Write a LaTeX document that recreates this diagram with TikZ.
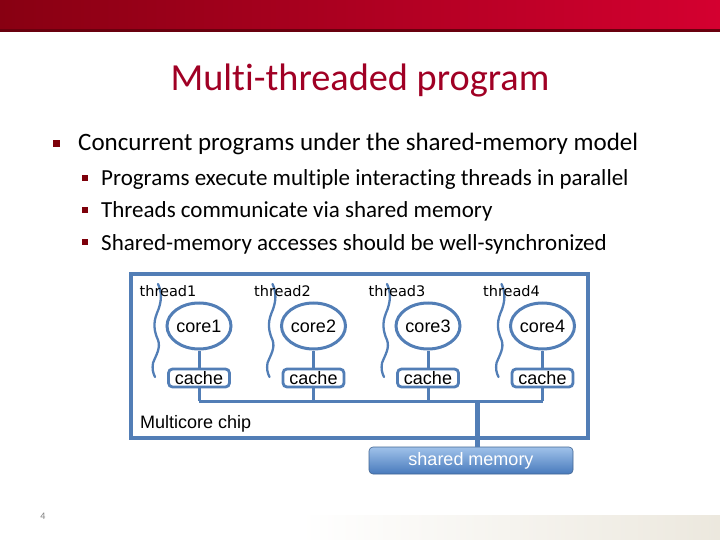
\documentclass[tikz,border=0pt]{standalone}
\usepackage{fontspec}
\setmainfont{Carlito}[Ligatures={NoCommon}]
\newfontfamily\diagfont{Liberation Sans}
\newfontfamily\thrfont{DejaVu Sans}
\usepackage{tikz}
\usetikzlibrary{shapes.geometric,positioning}

\definecolor{chipblue}{RGB}{82,126,182}
\definecolor{bannerdark}{RGB}{136,0,18}
\definecolor{bannerlight}{RGB}{212,0,48}
\definecolor{bannerline}{RGB}{105,0,14}
\definecolor{titlered}{RGB}{160,0,36}
\definecolor{bulletred}{RGB}{125,0,10}
\definecolor{memtop}{RGB}{160,194,234}
\definecolor{membot}{RGB}{72,122,188}
\definecolor{footbeige}{RGB}{236,232,222}

\begin{document}
\begin{tikzpicture}[x=1pt,y=-1pt,
      title/.style={font=\fontsize{38.3}{40}\selectfont, text=titlered,
          anchor=base, inner sep=0pt},
      itemtext/.style={font=\fontsize{25}{28}\selectfont, anchor=base west,
          inner sep=0pt},
      subtext/.style={font=\fontsize{23}{26}\selectfont, anchor=base west,
          inner sep=0pt},
      bulleta/.style={rectangle, fill=bulletred, inner sep=0pt,
          minimum size=7pt},
      bulletb/.style={rectangle, fill=bulletred, inner sep=0pt,
          minimum size=6pt},
      chip/.style={rectangle, draw=chipblue, line width=3.4pt,
          minimum width=457pt, minimum height=164pt, inner sep=0pt},
      core/.style={ellipse, draw=chipblue, fill=white, line width=3pt,
          minimum width=64pt, minimum height=46pt, inner sep=0pt,
          font=\diagfont\fontsize{18}{20}\selectfont},
      cache/.style={rectangle, draw=chipblue, fill=white, line width=2.8pt,
          rounded corners=4pt, minimum width=61pt, minimum height=18pt,
          inner sep=0pt, font=\diagfont\fontsize{18}{20}\selectfont},
      thr/.style={anchor=base, inner sep=0pt,
          font=\thrfont\fontsize{14.5}{16}\selectfont},
      mem/.style={rectangle, draw=chipblue!80!black, line width=0.6pt,
          rounded corners=4pt, top color=memtop, bottom color=membot,
          minimum width=204pt, minimum height=27pt, inner sep=0pt,
          text=white, font=\diagfont\fontsize{18}{20}\selectfont},
      link/.style={draw=chipblue, line width=3pt},
      memlink/.style={draw=chipblue, line width=5pt},
      wave/.style={draw=chipblue, line width=2.3pt, line cap=round}
  ]
  \useasboundingbox (0,0) rectangle (720,540);

  % banner and footer
  \shade[left color=bannerdark, right color=bannerlight] (0,0) rectangle (720,30);
  \fill[bannerline] (0,29.5) rectangle (720,32);
  \shade[left color=white, right color=footbeige] (300,515) rectangle (720,540);
  \node[font=\fontsize{10}{12}\selectfont, text=gray, anchor=base] (pagenum)
      at (43,519) {4};

  % title and bullets
  \node[title] (ttl) at (360,91) {Multi-threaded program};
  \node[bulleta] (b0) at (56.5,143.5) {};
  \node[itemtext] (t0) at (78,151) {Concurrent programs under the shared-memory model};
  \node[bulletb] (b1) at (85,178) {};
  \node[subtext] (t1) at (101,186) {Programs execute multiple interacting threads in parallel};
  \node[bulletb] (b2) at (85,210) {};
  \node[subtext] (t2) at (101,218) {Threads communicate via shared memory};
  \node[bulletb] (b3) at (85,242) {};
  \node[subtext] (t3) at (101,250) {Shared-memory accesses should be well-synchronized};

  % multicore chip
  \node[chip] (chip) at (359.5,356) {};
  \node[anchor=base west, inner sep=0pt, font=\diagfont\fontsize{18}{20}\selectfont]
      (chiplbl) at (140,428) {Multicore chip};

  \foreach \i in {1,...,4}{
      \pgfmathsetmacro\cx{199+114.5*(\i-1)}
      \draw[wave] ({\cx-41},284) .. controls ({\cx-37},292) and ({\cx-37},302) .. ({\cx-42},313)
          .. controls ({\cx-46},323) and ({\cx-45},331) .. ({\cx-41},340)
          .. controls ({\cx-38},348) and ({\cx-43},355) .. ({\cx-46},363)
          .. controls ({\cx-47},369) and ({\cx-46},373) .. ({\cx-44},377);
      \node[thr] (thr\i) at ({\cx-31},296) {thread\i};
      \node[core] (core\i) at (\cx,326) {core\i};
      \node[cache] (cache\i) at (\cx,378) {cache};
      \coordinate (bus\i) at (\cx,401);
      \draw[link] (core\i) -- (cache\i);
      \draw[link] (cache\i) -- (bus\i);
  }
  \draw[link] (bus1) -- (bus4);

  % shared memory
  \node[mem] (mem) at (471,460.5) {shared memory};
  \coordinate (tap) at (477,401);
  \draw[memlink] (tap) -- (tap |- mem.north);
\end{tikzpicture}
\end{document}
